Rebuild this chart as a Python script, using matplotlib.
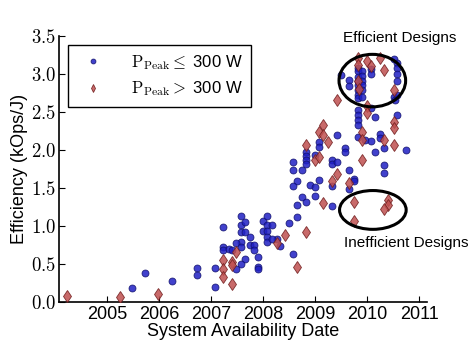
import matplotlib
matplotlib.use("Agg")
import matplotlib.pyplot as plt
from matplotlib.patches import Ellipse
from matplotlib.ticker import FixedLocator, FuncFormatter

plt.rcParams['mathtext.fontset'] = 'cm'
plt.rcParams['font.family'] = ['Liberation Sans', 'DejaVu Sans']

# P_peak <= 300 W  (blue circles)
low_date = [2005.49, 2005.74, 2006.25, 2006.74, 2006.74,
            2007.08, 2007.08, 2007.24, 2007.24, 2007.24, 2007.35, 2007.41,
            2007.58, 2007.58, 2007.65, 2007.58, 2007.65, 2007.75,
            2007.58, 2007.49, 2007.58, 2007.66, 2007.58, 2007.49,
            2007.75, 2007.83, 2007.83, 2007.91, 2007.91, 2007.91,
            2007.99, 2008.08, 2007.99, 2008.08, 2008.08, 2008.08, 2008.08,
            2008.17, 2008.26, 2008.17, 2008.33, 2008.50, 2008.57,
            2008.66, 2008.66, 2008.75, 2008.83, 2008.66, 2008.57,
            2008.57, 2008.57, 2008.75, 2008.83, 2008.83, 2008.83, 2008.83,
            2008.90, 2009.00, 2009.00, 2009.00, 2009.08, 2009.08, 2009.08,
            2009.42, 2009.58, 2009.58, 2009.33, 2009.33, 2009.42,
            2009.66, 2009.74, 2009.74, 2009.33, 2009.66, 2009.33,
            2009.50, 2009.66, 2009.66,
            2009.83, 2009.83, 2009.83, 2009.83, 2009.83, 2009.83, 2009.83, 2009.83,
            2009.90, 2009.90, 2009.90, 2009.90, 2009.90, 2009.90,
            2010.08, 2010.08,
            2010.51, 2010.57, 2010.57, 2010.57, 2010.57, 2010.51, 2010.57, 2010.54,
            2010.08, 2009.83, 2009.83, 2009.83, 2009.83, 2010.15, 2010.57,
            2009.83, 2009.96, 2010.08, 2010.24, 2010.24,
            2010.33, 2010.15, 2010.75, 2010.33, 2010.33]
low_eff = [0.19, 0.38, 0.27, 0.45, 0.36,
           0.45, 0.20, 0.99, 0.72, 0.68, 0.70, 0.69,
           1.13, 1.01, 1.05, 0.92, 0.92, 0.86,
           0.79, 0.77, 0.72, 0.56, 0.50, 0.44,
           0.75, 0.75, 0.68, 0.59, 0.46, 0.43,
           1.07, 1.13, 0.93, 1.01, 0.93, 0.86, 0.79,
           1.01, 0.83, 0.83, 0.73, 1.04, 0.63,
           1.12, 1.27, 1.38, 1.31, 1.59, 1.52,
           1.74, 1.84, 1.74, 1.97, 1.92, 1.87, 1.82,
           1.54, 1.51, 1.39, 1.93, 2.10, 2.04, 1.61,
           2.19, 2.02, 1.97, 1.86, 1.82, 1.84,
           1.73, 1.62, 1.59, 1.52, 1.48, 1.26,
           2.99, 2.92, 2.84,
           3.07, 3.03, 2.96, 2.91, 2.85, 2.79, 2.72, 2.68,
           3.03, 2.97, 2.91, 2.85, 2.79, 2.70,
           3.06, 3.00,
           3.20, 3.14, 3.07, 3.00, 2.90, 2.70, 2.72, 2.65,
           2.55, 2.52, 2.46, 2.39, 2.33, 2.43, 2.46,
           2.17, 2.13, 2.11, 2.21, 2.16,
           2.03, 1.97, 2.00, 1.80, 1.70]

# P_peak > 300 W  (red diamonds)
high_date = [2004.24, 2005.25, 2005.99,
             2007.24, 2007.24, 2007.24, 2007.41, 2007.41, 2007.41, 2007.49,
             2008.26, 2008.42, 2008.66, 2008.83,
             2008.83, 2009.00, 2009.08, 2009.16, 2009.16, 2009.24, 2009.16, 2009.08,
             2009.42, 2009.42, 2009.33, 2009.66, 2009.90,
             2009.74, 2009.74, 2010.41, 2010.41, 2010.33,
             2009.83, 2009.99, 2010.24, 2009.83, 2010.08, 2010.33,
             2009.83, 2009.85, 2010.51, 2009.99, 2009.99, 2010.51,
             2009.90, 2009.90, 2010.33, 2010.51, 2010.51]
high_eff = [0.08, 0.06, 0.10,
            0.55, 0.43, 0.33, 0.53, 0.49, 0.24, 0.66,
            0.77, 0.88, 0.46, 0.92,
            2.07, 1.87, 2.23, 2.33, 2.19, 2.10, 1.30, 1.91,
            2.66, 1.68, 1.59, 1.57, 1.86,
            1.32, 1.07, 1.34, 1.27, 1.22,
            3.21, 3.17, 3.21, 3.12, 3.10, 3.05,
            2.90, 2.80, 2.79, 2.57, 2.48, 2.36,
            2.23, 2.13, 2.13, 2.06, 2.29]

x_ticks = [2005, 2006, 2007, 2008, 2009, 2010, 2011]
y_ticks = [0.0, 0.5, 1.0, 1.5, 2.0, 2.5, 3.0, 3.5]

fig = plt.figure(figsize=(4.74, 3.55), dpi=100)
ax = fig.add_axes([0.1245, 0.1493, 0.7763, 0.7501])

ax.plot(low_date, low_eff, linestyle='none', marker='o', markersize=5.0,
        markerfacecolor='#1f1fc4', markeredgecolor='#10106a', markeredgewidth=0.6,
        alpha=0.85, label=r'$\mathrm{P_{Peak}}\leq$' + ' 300 W', zorder=3)
ax.plot(high_date, high_eff, linestyle='none', marker='d', markersize=6.0,
        markerfacecolor='#bf5050', markeredgecolor='#6e1a1a', markeredgewidth=0.6,
        alpha=0.85, label=r'$\mathrm{P_{Peak}} >$' + ' 300 W', zorder=3)

ax.add_patch(Ellipse((2010.10, 2.91), 1.28, 0.69, fill=False, edgecolor='black',
                     linewidth=2.2, zorder=4))
ax.add_patch(Ellipse((2010.11, 1.21), 1.28, 0.51, fill=False, edgecolor='black',
                     linewidth=2.2, zorder=4))
ax.text(2010.62, 3.47, 'Efficient Designs', ha='center', va='center',
        fontsize=11, clip_on=False)
ax.text(2010.75, 0.77, 'Inefficient Designs', ha='center', va='center',
        fontsize=11, clip_on=False)

ax.set_xlim(2004.08, 2011.15)
ax.set_ylim(0.0, 3.5)
ax.xaxis.set_major_locator(FixedLocator(x_ticks))
ax.yaxis.set_major_locator(FixedLocator(y_ticks))
ax.yaxis.set_major_formatter(FuncFormatter(lambda v, p: r'$%.1f$' % v))
ax.set_xticklabels([str(t) for t in x_ticks])
ax.tick_params(axis='x', direction='in', length=4, labelsize=13, pad=3)
ax.tick_params(axis='y', direction='in', length=4, labelsize=13.5, pad=2)
for s in ['top', 'right']:
    ax.spines[s].set_visible(False)
ax.spines['left'].set_linewidth(1.2)
ax.spines['bottom'].set_linewidth(1.2)

ax.set_xlabel('System Availability Date', fontsize=13, labelpad=0)
ax.set_ylabel('Efficiency (kOps/J)', fontsize=13, labelpad=2)

leg = ax.legend(loc='upper left', bbox_to_anchor=(0.024, 0.966), borderaxespad=0,
                fontsize=12, frameon=True, fancybox=False, edgecolor='black',
                framealpha=1, markerscale=0.7, handletextpad=1.3, borderpad=0.5,
                labelspacing=0.45)
leg.get_frame().set_linewidth(1.0)

fig.savefig('out.png', dpi=100)
